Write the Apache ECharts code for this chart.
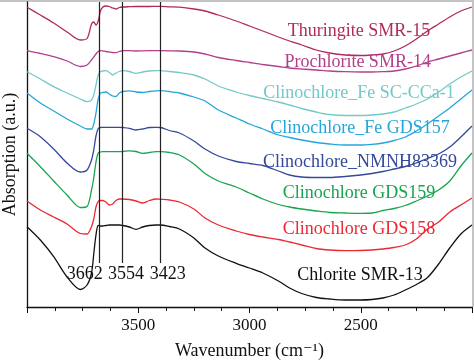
<!DOCTYPE html>
<html>
<head>
<meta charset="utf-8">
<script src="https://cdn.jsdelivr.net/npm/echarts@6/dist/echarts.min.js"></script>
<style>html,body{margin:0;padding:0;background:#fff}#c{width:474px;height:361px}</style>
</head>
<body>
<div id="c"></div>
<script>
// Wavenumber grid (cm^-1)
const wavenumber = [4000,3940,3880,3820,3760,3730,3710,3700,3690,3680,3670,3660,3645,3630,3615,3600,3585,3570,3540,3510,3480,3450,3420,3400,3360,3315,3250,3200,3140,3060,3000,2940,2870,2820,2765,2700,2640,2570,2500,2450,2400,2350,2300,2250,2200,2150,2100,2050,2000];

// Absorption (a.u., offset stacked)
const thuringiteSMR15 = [299.7,292,284,275,267,268.5,283,285,282,286,296,299.7,301,300.5,299,298,299.5,300,300.3,300.5,300.5,300.5,300.7,300.7,300.2,299.8,298,296,292,286,281,276,270,266,262,257,254,252,251.5,252,253,256,261,268,276,283,290,296,300];
const prochloriteSMR14 = [256.3,253.5,250.3,246,240.5,242,247,250,253,255.5,256.3,256.2,255.5,255,254.5,254.3,255.5,256.3,256.3,256,256.2,256.3,256.3,256.3,256.2,256,255,253,249.5,246.5,244.5,242.5,240.5,239,238,237,236,235.3,235,235,235.3,236,238,241,245,248,251,254,257];
const clinoFeSCCCa1 = [235.3,228,220.3,214,208,205.3,207,212,222,232,235.5,236,236.3,234.5,232,234,235.5,236.3,235.5,233.7,235,236,236.3,236.3,235.5,234.5,232,228,221,215,211.5,208.5,205,202,198.5,195,192.5,191.5,191.5,192,193,195,199,203,208,215,223,230,236];
const clinoFeGDS157 = [214,204,196,188,181,178,178,183,194,208,214,214.5,215,213,211,210.5,214,215.5,216.2,215,214.5,215.5,216.2,216.3,215.5,214,210,206,197,189,183,178,172,169.5,167,164.5,163,162,162,162.7,164,166.5,170,176,183,191,199,208,217];
const clinoNMNH83369 = [178.7,170.3,158,144,135,137,147,157,171,178.5,179.5,179.7,179.7,179.7,179.7,179.7,179.7,179.5,178.7,177,178,179.5,179.7,179.5,176.5,174,166,158,151,145.5,143.5,141.5,136,132,130,129.5,129.5,130.5,132,133.5,135.5,138,140.5,144,148.5,153,160,170,181];
const clinoGDS159 = [153.7,140.3,126,112,99.5,100.5,117,129,145,154,155,155.3,155.3,155.3,155.3,155.3,155.3,155.5,156.2,155.5,153.7,154.5,155.3,155.3,154.5,152,143,133.5,126,120,114,108,102.5,100,98,96,94.5,94,93.7,94,96.5,98.5,101.5,106,111,117,126,141,154];
const clinoGDS158 = [106,97,90,83,73.5,73,80.5,88,100,105.5,106.5,106.5,105,102,103,106.5,108,108,107.5,106,104,106.5,108,107.7,107,105,98,89,82,76,72.5,70,67.5,65,62,58.5,57,56.3,56.5,57,58,59.5,62,68,78,85,95,102,109];
const chloriteSMR13 = [80.3,67,50.3,30,17.5,22,34,53,72,81.5,81,81,81.5,82,82,82,82,81.5,80,77.7,80,81.5,82,82,80.5,78,69,59,51,43.7,39,34,26,19,13.5,9.5,8,7,7,7.5,9,12,17,22.5,29.5,43,59,73,82];

const seriesNames = ['Thuringite SMR-15','Prochlorite SMR-14','Clinochlore_Fe SC-CCa-1','Clinochlore_Fe GDS157','Clinochlore_NMNH83369','Clinochlore GDS159','Clinochlore GDS158','Chlorite SMR-13'];
const seriesValues = [thuringiteSMR15, prochloriteSMR14, clinoFeSCCCa1, clinoFeGDS157, clinoNMNH83369, clinoGDS159, clinoGDS158, chloriteSMR13];

// Reference band positions and their labels
const bandPositions = [3677, 3573, 3403];
const bandLabels = ['3662', '3554', '3423'];

// Tick labels shown on x axis
const xTickLabels = [3500, 3000, 2500];

// ---- styling (not data) ----
const colors = ['#b2295c','#b23f8c','#72c9c8','#25a5da','#34489c','#17a450','#ec2833','#111111'];
const labelAnchor = [[2508,275.3],[2514,244.3],[2508,213.7],[2503,178.7],[2503,144.3],[2508,113.7],[2508,77.7],[2503,32]];
const bandLabelOffset = [-14, 4, 8];
const serif = '"Liberation Serif", "DejaVu Serif", serif';

const chart = echarts.init(document.getElementById('c'), null, {renderer: 'canvas'});

const series = seriesNames.map((name, i) => ({
  name: name,
  type: 'line',
  data: wavenumber.map((w, k) => [w, seriesValues[i][k]]),
  showSymbol: false,
  smooth: 0.3,
  lineStyle: {color: colors[i], width: 1.3},
  itemStyle: {color: colors[i]},
  silent: true,
  markPoint: {
    silent: true,
    symbol: 'circle',
    symbolSize: 0,
    data: [{coord: labelAnchor[i]}],
    label: {show: true, position: 'inside', formatter: name, color: colors[i], fontSize: 18, fontFamily: serif}
  }
}));

series.push({
  type: 'line',
  data: [],
  silent: true,
  markLine: {
    silent: true,
    symbol: 'none',
    animation: false,
    lineStyle: {color: '#222', width: 1.2, type: 'solid'},
    label: {show: true, position: 'start', distance: 2, color: '#111', fontSize: 18, fontFamily: serif},
    data: bandPositions.map((p, i) => [
      {coord: [p, 44], label: {formatter: bandLabels[i], offset: [bandLabelOffset[i], 0]}},
      {coord: [p, 305]}
    ])
  }
});

chart.setOption({
  animation: false,
  grid: {left: 27, right: 2, top: 2, bottom: 54, containLabel: false, outerBoundsMode: 'none'},
  xAxis: {
    type: 'value',
    inverse: true,
    min: 2000,
    max: 4000,
    interval: 500,
    name: 'Wavenumber (cm\u207B\u00B9)',
    nameLocation: 'middle',
    nameGap: 35,
    nameTextStyle: {fontSize: 18, fontFamily: serif, color: '#111'},
    axisLine: {show: true, onZero: false, lineStyle: {color: '#111', width: 1.3}},
    axisTick: {show: true, length: 6, lineStyle: {color: '#111', width: 1}},
    minorTick: {show: true, splitNumber: 4, length: 4, lineStyle: {color: '#111', width: 1}},
    splitLine: {show: false},
    minorSplitLine: {show: false},
    axisLabel: {
      margin: 10, fontSize: 17, fontFamily: serif, color: '#111',
      formatter: v => (xTickLabels.indexOf(v) >= 0 ? String(v) : '')
    }
  },
  yAxis: {
    type: 'value',
    min: 0,
    max: 305,
    name: 'Absorption (a.u.)',
    nameLocation: 'middle',
    nameRotate: 90,
    nameGap: 8,
    nameTextStyle: {fontSize: 18, fontFamily: serif, color: '#111'},
    axisLine: {show: true, lineStyle: {color: '#111', width: 1.3}},
    axisTick: {show: false},
    axisLabel: {show: false},
    splitLine: {show: false}
  },
  graphic: [
    {type: 'rect', left: 0, top: 0, shape: {width: 474, height: 2}, style: {fill: '#c4c4c4'}, silent: true},
    {type: 'rect', left: 472, top: 0, shape: {width: 2, height: 307}, style: {fill: '#c4c4c4'}, silent: true}
  ],
  series: series
});
</script>
</body>
</html>
